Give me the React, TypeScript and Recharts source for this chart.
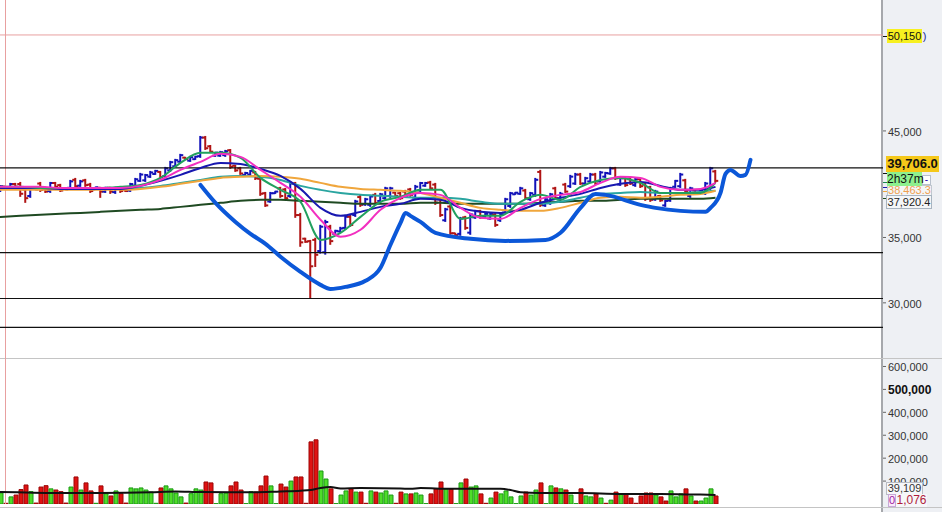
import React from "react";
import { ComposedChart, Bar, Line, XAxis, YAxis, ReferenceLine, Cell } from "recharts";

const barHigh = [39620,39530,39810,39810,39900,39340,39440,39440,39900,39440,39900,39900,39720,39340,40090,40280,40090,40190,39810,39440,39440,39440,39440,39440,39440,39250,39810,40280,40760,40660,40950,41050,40950,41340,41930,42130,42630,42330,42430,42430,44470,44470,43530,42830,42930,43030,43120,41540,41340,40860,41050,40950,40380,38970,38970,39070,39440,39340,39900,39900,37090,34980,34800,34980,36060,36490,36060,35640,35890,36920,36920,38250,38700,38430,38700,38880,38880,39440,39440,38970,38970,39160,39340,39620,39900,39900,40000,39810,38430,37530,37800,35390,36740,36830,37090,37360,37360,37090,37090,37090,37090,38430,38970,38970,39440,39250,38970,40280,41050,38430,38880,39440,38970,39810,40570,40760,40760,40380,40760,40760,40950,40860,41340,41340,40380,40380,40280,40280,40280,39810,39530,39160,38700,38250,39440,40090,40760,40190,39440,39160,39250,39900,41340,41050];
const barLow = [38970,39160,39340,39340,38520,37980,38430,39160,38970,38880,38880,39340,38970,39160,39250,39340,39440,39440,38880,39160,38430,38880,38790,38790,38880,38970,38970,39440,39900,39900,40280,40570,40190,40280,40860,41240,41730,42030,41830,42030,42230,43030,42730,42330,42330,42330,41150,40860,40570,40470,40470,40090,38610,37620,37980,38790,38430,38250,38430,36660,34240,34560,30300,32650,33690,33610,34400,35220,35390,35640,35890,36740,37620,37710,37620,37800,37980,38250,38430,38520,38250,38430,38520,38250,38970,39440,39160,37800,36740,36310,35220,35140,35140,35640,35220,36570,36570,36660,36490,35890,36310,37180,37530,38700,38700,38250,38160,38520,37620,37620,37800,38250,37980,38880,39340,39620,39620,39620,39810,39620,39810,40280,40570,40090,39530,39440,39620,39440,39340,38160,38070,38160,38070,37620,38070,39340,39340,38880,38430,38700,38790,38700,39160,39810];
const barOpen = [39100,39450,39400,39700,39700,39200,38600,39400,39750,39350,39050,39800,39600,39300,39350,40100,39550,40050,39650,39200,39350,39000,39350,38950,39350,39200,39100,39550,40000,40050,40400,40650,40850,40450,41000,41400,41850,42250,41950,42100,42400,44300,43400,42450,42450,42500,43000,41450,41200,40550,40600,40800,40200,38850,38100,38850,39300,39200,38600,39750,36900,34900,34700,34800,33900,33800,35900,35300,35500,35800,36750,36900,38500,37850,37800,38700,38150,38400,38600,38900,38850,39000,39200,38450,39100,39550,39850,39650,38300,36450,37650,35350,35300,36700,35400,36700,37250,36750,36600,36950,36450,37300,37700,38750,38800,39100,38300,38700,40850,37750,37950,39300,38100,39650,39500,39750,40600,39750,39950,40600,39950,40400,40700,41200,39650,40250,40150,39600,40150,39650,39400,38300,38600,37750,38200,39450,39500,40050,38600,39100,38900,38850,39300,40900];
const barClose = [39500,39250,39700,39450,38800,38400,39300,39200,39150,39000,39800,39450,39100,39200,39950,39500,39950,39600,39050,39400,39000,39350,39000,39350,39050,39050,39700,40150,40600,40550,40800,40950,40350,41200,41800,42000,42500,42100,42300,42350,44300,43200,42850,42750,42800,42900,41350,41000,40700,40750,40950,40250,38800,37750,38850,39000,38600,38400,39750,36900,34600,34650,32700,33600,35900,36300,34700,35550,35750,36750,36050,38100,37800,38300,38550,37950,38750,39300,39300,38600,38400,38600,38700,39450,39800,39800,39300,38000,36900,37400,35350,35200,36600,35800,36950,37250,36700,37000,37000,36050,36950,38300,38850,38900,39300,38400,38850,40100,37800,38300,38750,38400,38800,39000,40400,40600,39750,40250,40600,39750,40800,40750,41200,40250,40250,39600,39750,40150,39500,38350,38250,39000,38200,38150,39300,40000,40600,39050,39300,38800,39150,39750,41200,40000];

const maIndex = [-1,0,4,8,12,16,20,24,28,32,36,40,44,48,52,56,60,64,68,72,76,80,84,88,92,96,100,104,108,112,116,120,124,128,132,136,140,143];
const maNavy = [39340,39340,39340,39340,39250,39250,39250,39250,39530,40000,40570,41240,41730,41630,41150,40470,39250,37530,36830,37180,37620,37890,38340,38250,37530,37180,37090,37360,37980,38430,38790,39340,39720,39900,39530,39160,39160,39440];
const maMagenta = [39440,39440,39440,39440,39340,39340,39340,39340,39530,40090,41050,41830,42630,42330,41050,39810,38520,36490,35060,35640,37360,38430,38880,38700,37530,36660,36570,37530,38340,38700,38970,39810,40380,40280,39440,39160,39250,39810];
const maGreen = [39440,39440,39440,39340,39340,39340,39340,39440,39620,40280,41730,42730,42730,42230,40280,39160,38070,34800,35380,36740,38070,38520,39160,39160,36570,36830,36830,38070,38700,38250,39440,40090,40280,39810,38880,38880,38880,39810];
const maTeal = [39250,39250,39250,39250,39250,39250,39250,39250,39340,39530,39810,40090,40380,40470,40380,40090,39530,39160,38880,38700,38610,38520,38430,38430,38340,38070,37890,37890,37890,38070,38430,38790,38880,38970,38880,38880,38970,39070];
const maOrange = [39160,39160,39160,39160,39160,39160,39160,39160,39250,39440,39720,40000,40280,40380,40470,40380,40190,39810,39440,39250,39160,39070,38880,38430,37980,37530,37360,37270,37270,37530,37980,38430,38520,38430,38520,38700,38790,39070];
const maLong = [36720,36740,36830,36920,37010,37090,37180,37270,37360,37440,37620,37800,37980,38160,38250,38250,38160,38070,37980,37890,37890,37890,37980,37980,37890,37890,37890,37890,37980,38070,38160,38160,38250,38340,38340,38340,38340,38430];

const sketchIndex = [40,43,47,50,53,56,60,64,66,69,73,76,78,80,81,82,84,87,94,101,109,112,116,119,121,128,131,141,142,144,145,146,148,149,150];
const sketchPrice = [39620,37980,36310,35300,34480,33450,32270,31300,31000,31150,31600,32580,34400,36220,37090,36830,36310,35390,34890,34720,34800,35390,37530,38790,38700,37800,37530,37180,37530,38880,40660,41050,40470,40570,42030];

const volume = [48000,3000,31000,39000,63000,83000,54000,4000,74000,80000,66000,61000,54000,4000,74000,118000,61000,92000,57000,3000,79000,45000,35000,57000,45000,4000,70000,66000,70000,61000,52000,3000,70000,79000,66000,48000,31000,4000,45000,66000,61000,96000,92000,1500,45000,48000,79000,96000,61000,1500,54000,52000,79000,122000,79000,1500,87000,74000,100000,118000,118000,3000,271000,280000,144000,109000,66000,1500,39000,57000,66000,52000,52000,3000,57000,52000,48000,57000,39000,3000,52000,44000,44000,48000,39000,1500,44000,66000,96000,66000,66000,1500,92000,109000,74000,79000,44000,3000,26000,52000,44000,57000,31000,1500,35000,52000,39000,61000,92000,1500,79000,70000,66000,61000,39000,1500,66000,35000,31000,44000,26000,3000,17000,52000,44000,44000,26000,3000,35000,48000,48000,39000,31000,13000,57000,31000,44000,66000,35000,13000,13000,26000,66000,35000];
const volumeUp = [1,0,1,0,0,0,1,0,0,0,1,0,0,0,1,0,1,0,0,1,0,1,0,1,0,0,1,1,1,1,1,1,0,1,1,1,1,0,1,1,1,0,0,1,1,1,0,0,0,1,1,0,0,0,1,1,0,0,1,0,0,0,0,0,1,1,0,1,1,1,0,1,0,0,1,0,1,1,1,0,0,1,0,1,1,1,0,0,0,1,0,1,1,0,1,1,0,0,1,0,1,1,1,1,1,0,1,1,0,1,1,0,1,0,1,1,0,1,1,0,1,0,1,0,1,0,0,0,0,0,0,1,0,0,1,1,1,0,1,0,1,1,1,0];
const volMaIndex = [-1,0,10,20,30,35,40,50,56,60,62,64,66,68,72,80,82,84,90,96,100,102,104,108,116,124,132,140,143];
const volMa = [52000,52000,48000,48000,51000,55000,52000,51000,55000,58000,61000,70000,74000,68000,70000,68000,66000,70000,66000,66000,66000,61000,51000,48000,48000,44000,44000,41000,39000];

const priceTicks = [30000, 35000, 45000];
const volumeTicks = [100000, 200000, 300000, 400000, 500000, 600000];
const supportLevels = [41240, 33770, 30310, 28310];
const markedLevel = 56430;

const SLOTS = 178;
const FONT = "'Liberation Sans', Arial, sans-serif";

const lookup = (idx: number[], vals: number[], i: number) => {
  const k = idx.indexOf(i);
  return k >= 0 ? vals[k] : null;
};

const priceRows = Array.from({ length: SLOTS }, (_, n) => {
  const i = n - 1;
  return {
    idx: i,
    high: barHigh[i] ?? null,
    low: barLow[i] ?? null,
    open: barOpen[i] ?? null,
    close: barClose[i] ?? null,
    range: barHigh[i] != null ? [barLow[i], barHigh[i]] : null,
    navy: lookup(maIndex, maNavy, i),
    magenta: lookup(maIndex, maMagenta, i),
    green: lookup(maIndex, maGreen, i),
    teal: lookup(maIndex, maTeal, i),
    orange: lookup(maIndex, maOrange, i),
    long: lookup(maIndex, maLong, i),
    sketch: lookup(sketchIndex, sketchPrice, i),
  };
});

const volumeRows = Array.from({ length: SLOTS }, (_, n) => {
  const i = n - 1;
  return {
    idx: i,
    volume: volume[i] ?? null,
    up: volumeUp[i] ?? 0,
    ma: lookup(volMaIndex, volMa, i),
  };
});

const OhlcBar = (props: any) => {
  const { x, y, width, height, payload } = props;
  if (!payload || payload.high == null) return null;
  const top = Math.min(y, y + height);
  const h = Math.abs(height);
  const span = Math.log(payload.high / payload.low) || 1;
  const at = (p: number) => top + (h * Math.log(payload.high / p)) / span;
  const cx = x + width / 2;
  const color = payload.close >= payload.open ? "#1212b8" : "#b01414";
  return (
    <g stroke={color} strokeWidth={2} fill="none">
      <line x1={cx} x2={cx} y1={top} y2={top + h} />
      <line x1={cx - 3} x2={cx} y1={at(payload.open)} y2={at(payload.open)} />
      <line x1={cx} x2={cx + 3} y1={at(payload.close)} y2={at(payload.close)} />
    </g>
  );
};

const AxisTick = (props: any) => {
  const { x, y, payload } = props;
  const bold = payload.value === 500000;
  return (
    <text x={x} y={y + 5} fontFamily={FONT} fontSize={bold ? 12 : 11} fontWeight={bold ? 700 : 400} fill={bold ? "#111" : "#333"}>
      {payload.value.toLocaleString("en-US")}
    </text>
  );
};

const Chip = ({ text, left, top, width, height, bg, color, border, size, bold }: any) => (
  <div
    style={{
      position: "absolute", left, top, width, height, background: bg, color,
      border: border ? `1px solid ${border}` : "none", boxSizing: "border-box",
      fontFamily: FONT, fontSize: size ?? 11, fontWeight: bold ? 700 : 400,
      lineHeight: `${height - (border ? 2 : 0)}px`, whiteSpace: "nowrap", textAlign: "center",
    }}
  >
    {text}
  </div>
);

const Mark = ({ top, color }: any) => (
  <div style={{ position: "absolute", left: 883, top, width: 4, height: 1, background: color }} />
);

export default function App() {
  return (
    <div style={{ position: "absolute", left: 0, top: 0, width: 942, height: 512, background: "#fff", overflow: "hidden" }}>
      <div style={{ position: "absolute", left: 881, top: 0, width: 61, height: 512, background: "#eef0f4", borderLeft: "2px solid #a6a8ac", boxSizing: "border-box" }} />
      <div style={{ position: "absolute", left: 0, top: 358, width: 942, height: 1, background: "#c4c4c4" }} />
      <div style={{ position: "absolute", left: 0, top: 507, width: 942, height: 1, background: "#c4c4c4" }} />

      <div style={{ position: "absolute", left: 0, top: 0 }}>
        <ComposedChart width={942} height={358} data={priceRows} margin={{ top: 0, right: 0, bottom: 0, left: -7 }}>
          <XAxis dataKey="idx" hide type="category" />
          <YAxis
            orientation="right" width={59} scale="log" domain={[26340, 61280]} allowDataOverflow
            ticks={priceTicks} tick={<AxisTick />} tickSize={3} tickMargin={2}
            stroke="#666" axisLine={false} interval={0}
          />
          <ReferenceLine x={1} stroke="#e8a0a0" strokeWidth={1} />
          <ReferenceLine y={markedLevel} stroke="#e8a0a0" strokeWidth={1} />
          {supportLevels.map((v) => (
            <ReferenceLine key={v} y={v} stroke="#111" strokeWidth={1.2} />
          ))}
          <Bar dataKey="range" barSize={5} shape={<OhlcBar />} isAnimationActive={false} />
          <Line dataKey="long" stroke="#1f4a22" strokeWidth={2} dot={false} activeDot={false} connectNulls type="monotone" isAnimationActive={false} />
          <Line dataKey="teal" stroke="#2aa5a0" strokeWidth={2} dot={false} activeDot={false} connectNulls type="monotone" isAnimationActive={false} />
          <Line dataKey="orange" stroke="#f0a63c" strokeWidth={2} dot={false} activeDot={false} connectNulls type="monotone" isAnimationActive={false} />
          <Line dataKey="navy" stroke="#1818b0" strokeWidth={2} dot={false} activeDot={false} connectNulls type="monotone" isAnimationActive={false} />
          <Line dataKey="green" stroke="#22a05e" strokeWidth={2} dot={false} activeDot={false} connectNulls type="monotone" isAnimationActive={false} />
          <Line dataKey="magenta" stroke="#f22fc0" strokeWidth={2} dot={false} activeDot={false} connectNulls type="monotone" isAnimationActive={false} />
          <Line dataKey="sketch" stroke="#0b57d8" strokeWidth={4} strokeLinecap="round" dot={false} activeDot={false} connectNulls type="monotone" isAnimationActive={false} />
        </ComposedChart>
      </div>

      <div style={{ position: "absolute", left: 0, top: 358 }}>
        <ComposedChart width={942} height={154} data={volumeRows} margin={{ top: 0, right: 0, bottom: 8, left: -7 }}>
          <XAxis dataKey="idx" hide type="category" />
          <YAxis
            orientation="right" width={59} domain={[0, 637000]} allowDataOverflow
            ticks={volumeTicks} tick={<AxisTick />} tickSize={3} tickMargin={2}
            stroke="#666" axisLine={false} interval={0}
          />
          <ReferenceLine x={1} stroke="#e8a0a0" strokeWidth={1} />
          <Bar dataKey="volume" barSize={4} isAnimationActive={false}>
            {volumeRows.map((r) => (
              <Cell key={r.idx} fill={r.up ? "#4fdc2a" : "#e01212"} stroke={r.up ? "#1a9a14" : "#9c0606"} strokeWidth={1} />
            ))}
          </Bar>
          <Line dataKey="ma" stroke="#111" strokeWidth={2} dot={false} activeDot={false} connectNulls type="monotone" isAnimationActive={false} />
        </ComposedChart>
      </div>

      <Mark top={36} color="#111" />
      <Mark top={173} color="#111" />
      <Mark top={182} color="#1a8a50" />
      <Mark top={187} color="#1818b0" />
      <Mark top={191} color="#f0a63c" />
      <Mark top={198} color="#1f4a22" />
      <Chip text="50,150" left={887} top={29} width={35} height={14} bg="#f7f020" color="#111" />
      <Chip text=")" left={922} top={29} width={5} height={14} bg="transparent" color="#1a2a90" />
      <Chip text="-" left={922} top={175} width={9} height={10} bg="#fff" color="#20a" border="#b8c0cc" size={10} />
      <Chip text="38,463.3" left={887} top={185} width={45} height={11} bg="#f4f6f8" color="#f0a050" border="#c0c8d0" />
      <Chip text="37,920.4" left={886} top={195} width={46} height={14} bg="#f4f6f8" color="#222" border="#a8b4c0" />
      <Chip text="39,706.0" left={886} top={156} width={53} height={16} bg="#f5c81a" color="#111" size={13} bold />
      <Chip text="2h37m" left={887} top={172} width={35} height={14} bg="#8ef08e" color="#111" size={12} />
      <Chip text="39,109" left={886} top={482} width={37} height={13} bg="#f6f7f9" color="#333" border="#b8bcc4" />
      <Chip text="1,076" left={896} top={494} width={31} height={13} bg="#f6f7f9" color="#b01c3c" size={12} />
      <Chip text="0" left={888} top={494} width={8} height={13} bg="#faeafa" color="#a020a0" border="#c8a8d8" />
    </div>
  );
}
